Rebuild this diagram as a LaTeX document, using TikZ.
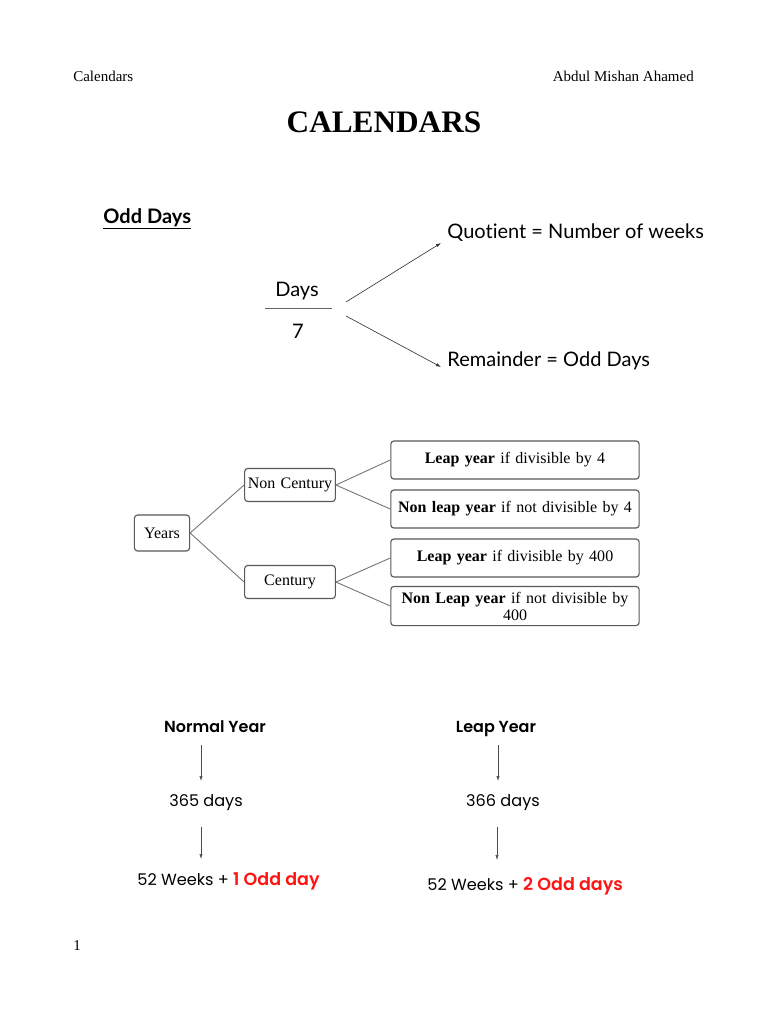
\documentclass[tikz,border=0pt]{standalone}
\usepackage{fontspec}
\setmainfont{Liberation Serif}
\newfontfamily\latofont{Lato}[Ligatures=NoCommon]
\newfontfamily\popfont{Poppins}[BoldFont={Poppins SemiBold}]
\usetikzlibrary{arrows.meta,calc,positioning}
\tikzset{
  hdr/.style={font=\fontsize{12}{14}\selectfont,inner sep=0pt},
  ttl/.style={font=\fontsize{25}{29}\selectfont\bfseries},
  lato/.style={font=\latofont\fontsize{16}{19}\selectfont},
  pop/.style={font=\popfont\fontsize{12.9}{15}\selectfont},
  popb/.style={font=\popfont\fontsize{12.8}{15}\selectfont\bfseries},
  yrbox/.style={draw=black!65,rounded corners=2.5pt,line width=0.9pt,
    font=\fontsize{12.8}{13.5}\selectfont,inner sep=0pt,align=center},
  tline/.style={draw=black!55,line width=0.7pt},
  arr/.style={-{Latex[length=4pt,width=2.6pt]},black!80,line width=0.5pt},
  darr/.style={-{Latex[length=4pt,width=2.6pt]},black!70,line width=0.5pt}
}
\definecolor{oddred}{RGB}{255,20,20}
\newcommand{\oddtxt}[1]{\textcolor{oddred}{\fontsize{14}{15}\selectfont\bfseries #1}}
\begin{document}
\begin{tikzpicture}[x=0.0281cm,y=-0.0281cm]
\useasboundingbox[fill=white] (0,0) rectangle (768,1024);
% header
\node[hdr,anchor=base west] (hl) at (73,82) {Calendars};
\node[hdr,anchor=base east] (hr) at (694,82) {Abdul Mishan Ahamed};
\node[ttl] (title) at (384,122) {CALENDARS};
% odd days
\node[lato,anchor=west] (odd) at (99,219) {\bfseries\underline{Odd Days}};
\node[lato] (days) at (297,291) {Days};
\node[lato] (seven) at (298,331) {7};
\coordinate (barl) at (265,308);
\coordinate (barr) at (332,308);
\draw[black!60,line width=0.6pt] (barl) -- (barr);
\node[lato,anchor=west] (quot) at (443,233) {Quotient = Number of weeks};
\node[lato,anchor=west] (rem) at (443,361) {Remainder = Odd Days};
\coordinate (f1) at (346,302);
\coordinate (f2) at (346,316);
\coordinate (q1) at (441,243);
\coordinate (r1) at (441,367);
\draw[arr] (f1) -- (q1);
\draw[arr] (f2) -- (r1);
% years tree
\node[yrbox,text width=1.55cm,minimum height=1.01cm] (years) at (162,533) {Years};
\node[yrbox,text width=2.55cm,minimum height=0.93cm] (nonc) at (290,485) {Non Century};
\node[yrbox,text width=2.55cm,minimum height=0.93cm] (cent) at (290,582) {Century};
\node[yrbox,text width=6.98cm,minimum height=1.07cm] (l1) at (515,460) {\textbf{Leap year} if divisible by 4};
\node[yrbox,text width=6.98cm,minimum height=1.07cm] (l2) at (515,509) {\textbf{Non leap year} if not divisible by 4};
\node[yrbox,text width=6.98cm,minimum height=1.07cm] (l3) at (515,558) {\textbf{Leap year} if divisible by 400};
\node[yrbox,text width=6.98cm,minimum height=1.10cm] (l4) at (515,606) {\textbf{Non Leap year} if not divisible by\\400};
\draw[tline] (years.east) -- (nonc.west);
\draw[tline] (years.east) -- (cent.west);
\draw[tline] (nonc.east) -- (l1.west);
\draw[tline] (nonc.east) -- (l2.west);
\draw[tline] (cent.east) -- (l3.west);
\draw[tline] (cent.east) -- (l4.west);
% normal / leap
\node[popb] (ny) at (215,727) {Normal Year};
\node[pop] (n365) at (206,803) {365 days};
\node[pop,anchor=west] (nw) at (133,881) {52 Weeks + \oddtxt{1 Odd day}};
\node[popb,anchor=base] (ly) at (496,732) {Leap Year};
\node[pop] (l366) at (503,803) {366 days};
\node[pop,anchor=west] (lw) at (423,886) {52 Weeks + \oddtxt{2 Odd days}};
\coordinate (na1) at (201,745); \coordinate (na2) at (201,781);
\coordinate (na3) at (201,827); \coordinate (na4) at (201,859);
\coordinate (la1) at (498,745); \coordinate (la2) at (498,781);
\coordinate (la3) at (497,827); \coordinate (la4) at (497,860);
\draw[darr] (na1) -- (na2);
\draw[darr] (na3) -- (na4);
\draw[darr] (la1) -- (la2);
\draw[darr] (la3) -- (la4);
% page number
\node[hdr,anchor=base west] (pg) at (73,950) {1};
\end{tikzpicture}
\end{document}
